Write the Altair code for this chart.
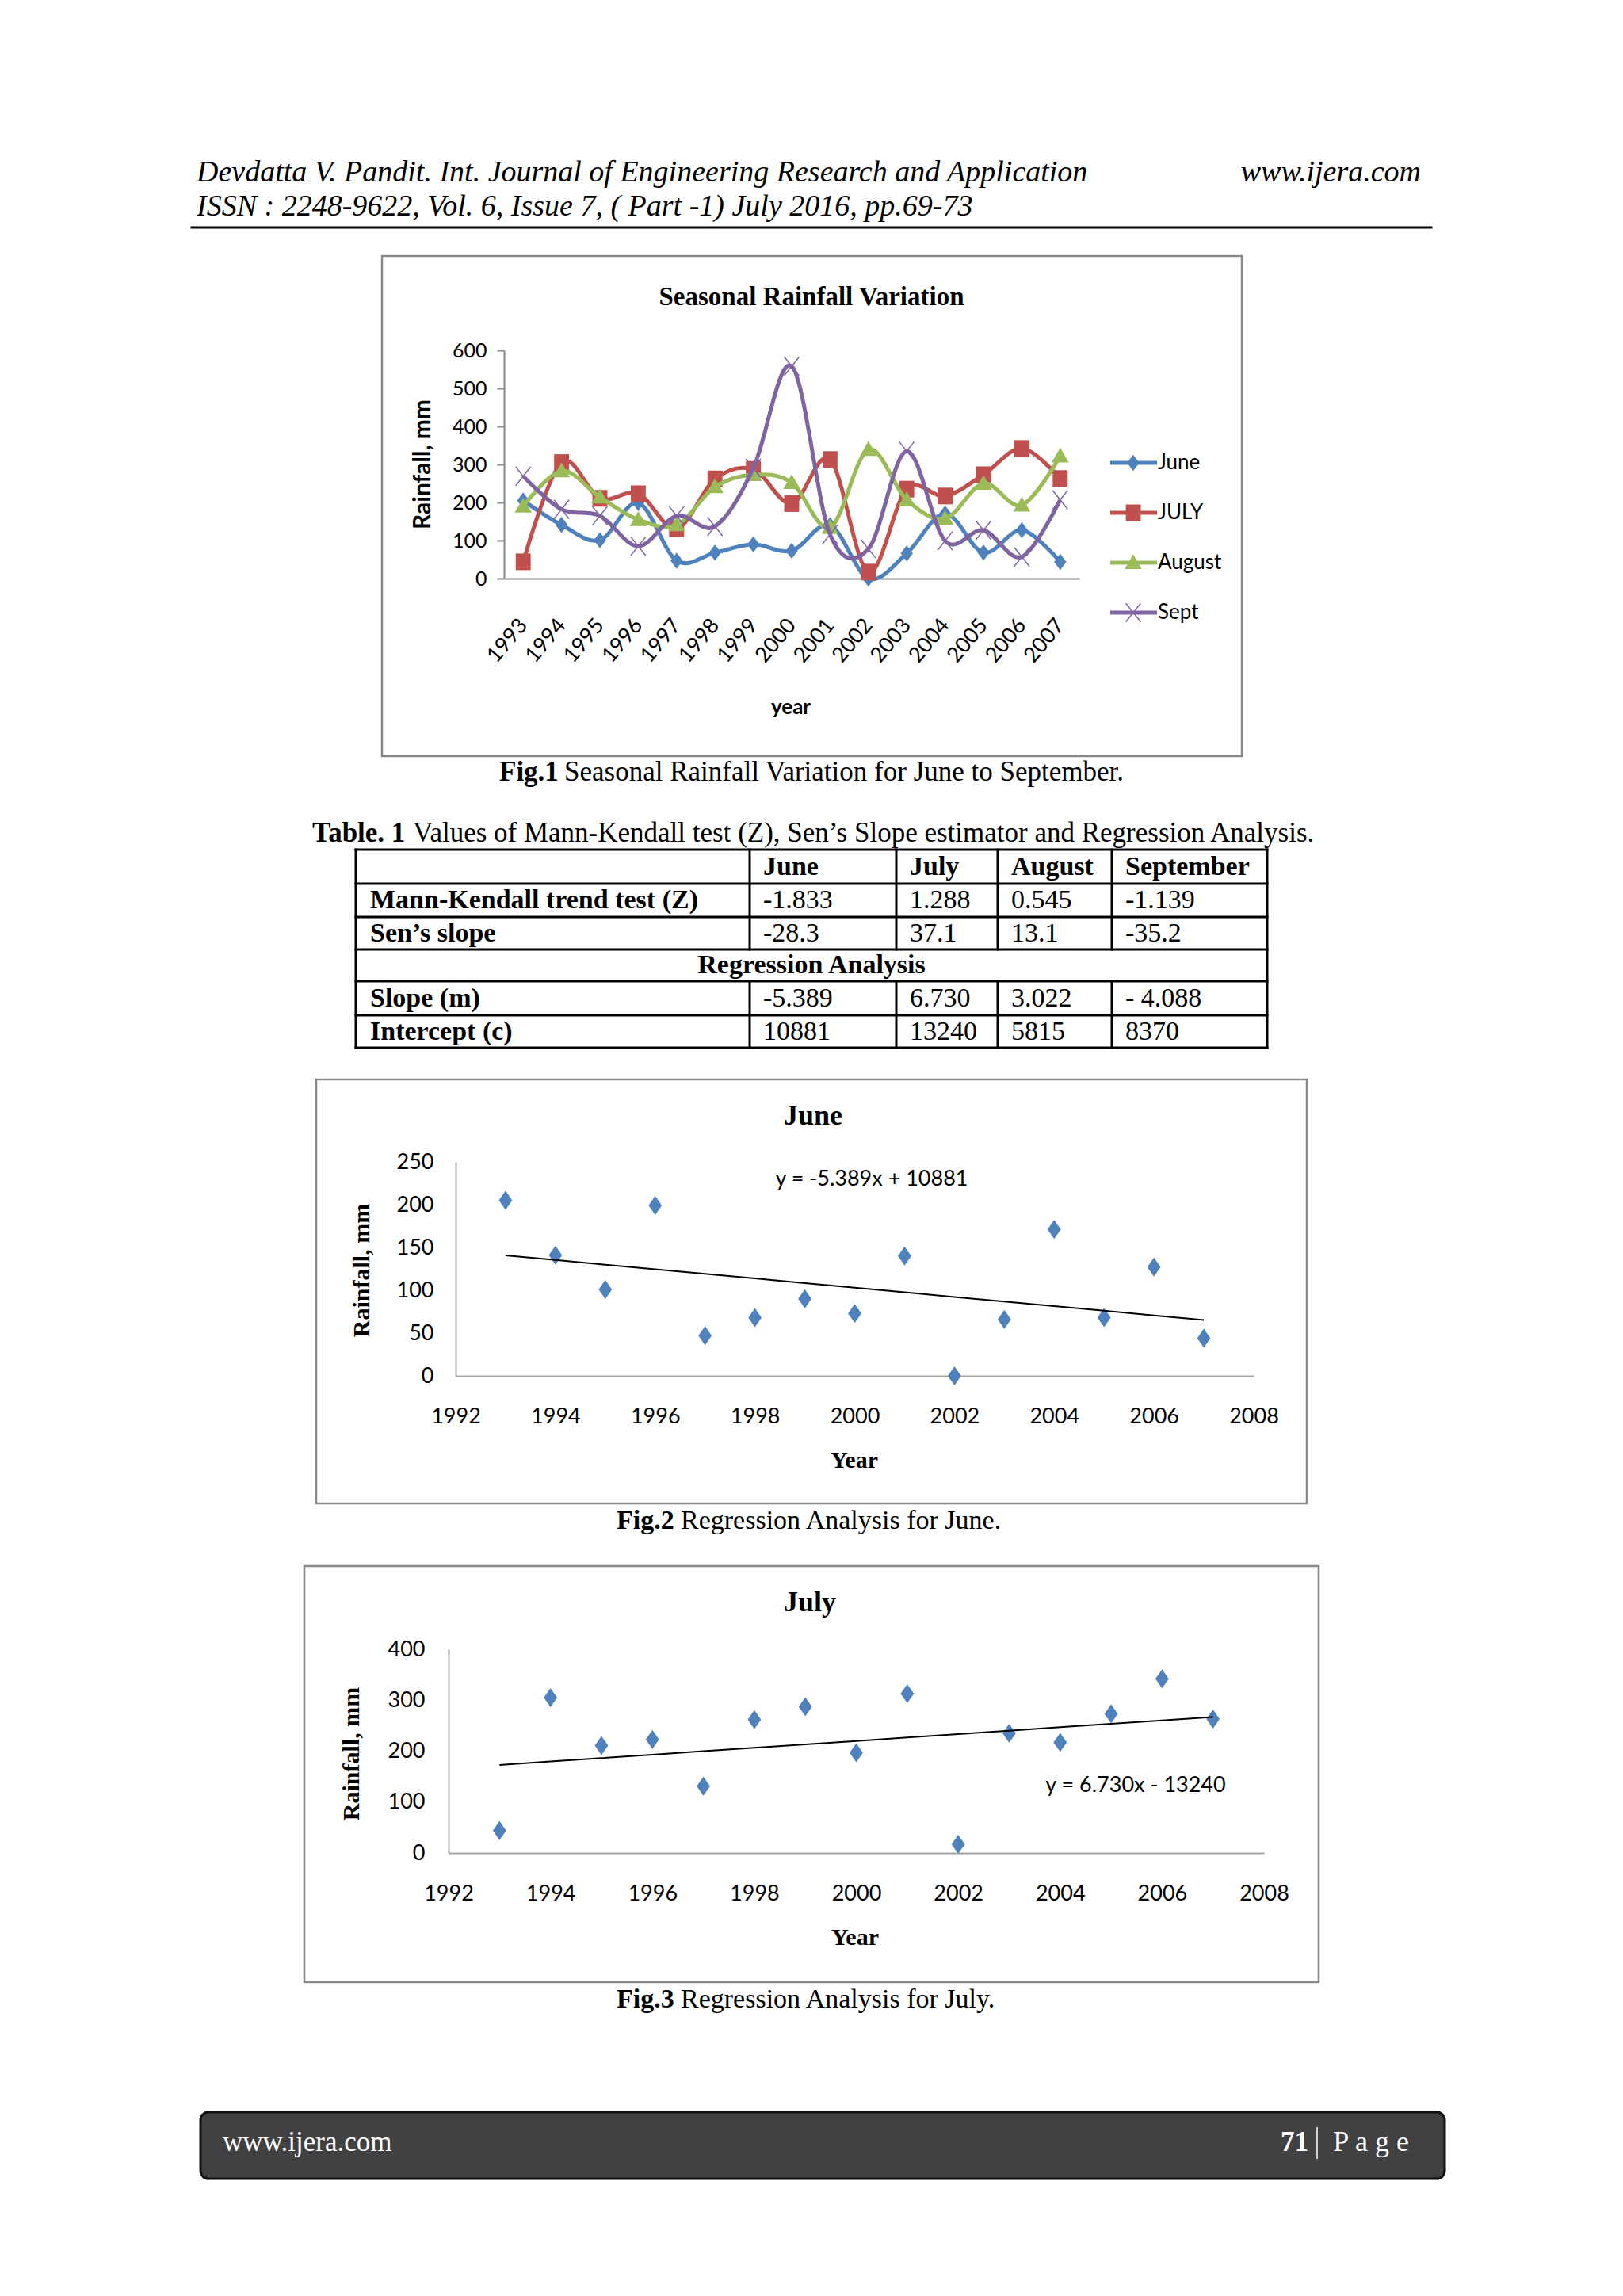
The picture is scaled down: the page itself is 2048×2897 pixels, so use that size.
import altair as alt
import pandas as pd

# ---------------- data ----------------
years = list(range(1993, 2008))
june = [205, 141, 101, 199, 47, 68, 90, 73, 140, 0, 66, 171, 68, 127, 44]
july = [44, 305, 211, 223, 131, 262, 287, 197, 313, 17, 235, 217, 273, 342, 263]
august = [190, 283, 214, 155, 141, 241, 273, 252, 134, 339, 207, 158, 250, 193, 322]
sept = [269, 182, 165, 85, 165, 137, 290, 558, 116, 78, 335, 99, 127, 57, 207]
series_names = ["June", "JULY", "August", "Sept"]
series_colors = ["#4F81BD", "#C0504D", "#9BBB59", "#8064A2"]
fig1_ticks = [0, 100, 200, 300, 400, 500, 600]

table_cols = ["June", "July", "August", "September"]
row_labels = ["Mann-Kendall trend test (Z)", "Sen\u2019s slope", "Slope (m)", "Intercept (c)"]
mk_z = ["-1.833", "1.288", "0.545", "-1.139"]
sens_slope = ["-28.3", "37.1", "13.1", "-35.2"]
reg_slope = ["-5.389", "6.730", "3.022", "- 4.088"]
reg_intercept = ["10881", "13240", "5815", "8370"]

june_eq = "y = -5.389x + 10881"
july_eq = "y = 6.730x - 13240"
june_m, june_c = -5.389, 10881
july_m, july_c = 6.730, -13240

header1 = "Devdatta V. Pandit. Int. Journal of Engineering Research and Application"
header2 = "ISSN : 2248-9622, Vol. 6, Issue 7, ( Part -1) July 2016, pp.69-73"
site = "www.ijera.com"

# ---------------- page helpers ----------------
W, H = 2032, 2870


def px(v):
    return v - 8


def py(v):
    return v - 8


one = pd.DataFrame({"k": [0]})
layers = []
SERIF = "Liberation Serif"


def add_text(s, x, y, size, font=SERIF, weight="normal", style="normal",
             align="left", baseline="middle", angle=0, color="black"):
    layers.append(
        alt.Chart(one).mark_text(text=s, font=font, fontSize=size, fontWeight=weight,
                                 fontStyle=style, align=align, baseline=baseline,
                                 angle=angle, color=color)
        .encode(x=alt.value(px(x)), y=alt.value(py(y)))
    )


def add_hline(x1, x2, y, color="black", w=3, cap="square"):
    layers.append(
        alt.Chart(one).mark_rule(color=color, strokeWidth=w, strokeCap=cap)
        .encode(x=alt.value(px(x1)), x2=alt.value(px(x2)), y=alt.value(py(y)))
    )


def add_vline(x, y1, y2, color="black", w=3, cap="square"):
    layers.append(
        alt.Chart(one).mark_rule(color=color, strokeWidth=w, strokeCap=cap)
        .encode(x=alt.value(px(x)), y=alt.value(py(y1)), y2=alt.value(py(y2)))
    )


def add_box(x1, y1, x2, y2, stroke="#888888", w=2.5, fill=None, radius=0):
    props = dict(stroke=stroke, strokeWidth=w)
    if fill is None:
        props.update(fill="white", fillOpacity=0)
    else:
        props.update(fill=fill, fillOpacity=1)
    if radius:
        props["cornerRadius"] = radius
    layers.append(
        alt.Chart(one).mark_rect(**props)
        .encode(x=alt.value(px(x1)), x2=alt.value(px(x2)),
                y=alt.value(py(y1)), y2=alt.value(py(y2)))
    )


# ---------------- header ----------------
add_text(header1, 248, 218, 38, style="italic")
add_text(site, 1793, 218, 38, style="italic", align="right")
add_text(header2, 248, 261, 38, style="italic")
add_hline(242, 1806, 287, w=3)

# ---------------- Fig. 1 ----------------
add_box(482, 323, 1567, 954)
add_text("Seasonal Rainfall Variation", 1024, 375, 33, weight="bold", align="center")
add_text("Rainfall, mm", 534, 586, 30, font="Lato", weight="bold", align="center", angle=270)
add_text("year", 998, 893, 26, font="Lato", weight="bold", align="center")

shapes = [
    ("M0,-1L0.75,0L0,1L-0.75,0Z", True, 420, 0),
    ("M-0.9,-1H0.9V1H-0.9Z", True, 440, 0),
    ("M0,-1L1,0.75L-1,0.75Z", True, 460, 0),
    ("M-0.8,-1L0.8,1M-0.8,1L0.8,-1", False, 560, 1.5),
]

long = pd.DataFrame({
    "year": [y for _ in series_names for y in years],
    "series": [n for n in series_names for _ in years],
    "rain": june + july + august + sept,
})

ax_gray = "#868686"
x1 = alt.X("year:O",
           scale=alt.Scale(type="point", padding=0.5, range=[px(636), px(1362)]),
           axis=alt.Axis(orient="bottom", offset=py(730) - H, labelAngle=-50,
                         ticks=False, grid=False, title=None, domainColor=ax_gray,
                         domainWidth=2, labelFont="Lato", labelFontSize=27,
                         labelColor="black", labelPadding=54))
y1 = alt.Y("rain:Q",
           scale=alt.Scale(domain=[0, 600], range=[py(730), py(442)], nice=False),
           axis=alt.Axis(orient="left", offset=-px(636), values=fig1_ticks,
                         tickSize=9, tickColor=ax_gray, tickWidth=2, grid=False,
                         title=None, domainColor=ax_gray, domainWidth=2,
                         labelFont="Lato", labelFontSize=25, labelColor="black",
                         labelPadding=13))

fig1_layers = []
for name, color, (shp, filled, sz, sw) in zip(series_names, series_colors, shapes):
    base = alt.Chart(long).transform_filter(alt.datum.series == name)
    fig1_layers.append(base.mark_line(interpolate="cardinal", color=color, strokeWidth=5)
                       .encode(x=x1, y=y1))
    pkw = dict(shape=shp, filled=filled, color=color, size=sz, opacity=1)
    if sw:
        pkw["strokeWidth"] = sw
    fig1_layers.append(base.mark_point(**pkw).encode(x=x1, y=y1))
fig1 = alt.layer(*fig1_layers)

# legend
for i, (name, color, (shp, filled, sz, sw)) in enumerate(zip(series_names, series_colors, shapes)):
    yy = 584 + i * 63
    add_hline(1401, 1460, yy, color=color, w=5, cap="butt")
    pkw = dict(shape=shp, filled=filled, color=color, size=sz, opacity=1)
    if sw:
        pkw["strokeWidth"] = sw
    layers.append(alt.Chart(one).mark_point(**pkw)
                  .encode(x=alt.value(px(1430)), y=alt.value(py(yy))))
    add_text(name, 1461, yy, 26, font="Lato")

# caption
add_text("Fig.1", 630, 974, 35, weight="bold")
add_text("Seasonal  Rainfall Variation for June to September.", 712, 974, 35)

# ---------------- Table 1 ----------------
add_text("Table. 1", 394, 1051, 35, weight="bold")
add_text("Values of  Mann-Kendall test (Z), Sen\u2019s Slope estimator and Regression Analysis.",
         521, 1051, 35)

row_y = [1072, 1115, 1157, 1198, 1238, 1281, 1322]
col_x = [449, 946, 1131, 1259, 1403, 1599]
for yy in row_y:
    add_hline(col_x[0], col_x[-1], yy, w=3)
add_vline(col_x[0], row_y[0], row_y[-1], w=3)
add_vline(col_x[-1], row_y[0], row_y[-1], w=3)
for xx in col_x[1:-1]:
    add_vline(xx, row_y[0], row_y[3], w=3)
    add_vline(xx, row_y[4], row_y[6], w=3)

centers = [(row_y[i] + row_y[i + 1]) / 2 for i in range(6)]
for j, h in enumerate(table_cols):
    add_text(h, col_x[j + 1] + 17, centers[0], 34, weight="bold")
body_rows = [(1, row_labels[0], mk_z), (2, row_labels[1], sens_slope),
             (4, row_labels[2], reg_slope), (5, row_labels[3], reg_intercept)]
for r, lab, vals in body_rows:
    add_text(lab, col_x[0] + 18, centers[r], 34, weight="bold")
    for j, v in enumerate(vals):
        add_text(v, col_x[j + 1] + 17, centers[r], 34)
add_text("Regression Analysis", (col_x[0] + col_x[-1]) / 2, centers[3], 34,
         weight="bold", align="center")

# ---------------- Fig. 2 and Fig. 3 ----------------
diamond = "M0,-1L0.7,0L0,1L-0.7,0Z"
light_gray = "#A6A6A6"


def scatter_fig(vals, m, c, x0, x1_, y_bot, y_top, ymax, ystep, lab_pad):
    d = pd.DataFrame({"year": years, "rain": vals})
    xs = alt.Scale(domain=[1992, 2008], range=[px(x0), px(x1_)], nice=False, zero=False)
    ys = alt.Scale(domain=[0, ymax], range=[py(y_bot), py(y_top)], nice=False)
    xa = alt.Axis(orient="bottom", offset=py(y_bot) - H, values=list(range(1992, 2009, 2)),
                  format="d", ticks=False, grid=False, title=None, domainColor=light_gray,
                  domainWidth=2, labelFont="Lato", labelFontSize=27, labelColor="black",
                  labelPadding=38, labelFlush=False, labelOverlap=False)
    ya = alt.Axis(orient="left", offset=-px(x0), values=list(range(0, ymax + 1, ystep)),
                  ticks=False, grid=False, title=None, domainColor=light_gray,
                  domainWidth=2, labelFont="Lato", labelFontSize=27, labelColor="black",
                  labelPadding=lab_pad)
    pts = alt.Chart(d).mark_point(shape=diamond, filled=True, color="#4F81BD",
                                  size=576, opacity=1).encode(
        x=alt.X("year:Q", scale=xs, axis=xa), y=alt.Y("rain:Q", scale=ys, axis=ya))
    fit = alt.Chart(d).transform_calculate(fit=f"{m} * datum.year + ({c})").mark_line(
        color="black", strokeWidth=2).encode(
        x=alt.X("year:Q", scale=xs, axis=xa), y=alt.Y("fit:Q", scale=ys, axis=ya))
    return alt.layer(pts, fit)


# Fig 2
add_box(399, 1362, 1649, 1897)
add_text("June", 1026, 1408, 36, weight="bold", align="center")
add_text("Rainfall, mm", 457, 1603, 30, weight="bold", align="center", angle=270)
add_text("Year", 1078, 1843, 30, weight="bold", align="center")
add_text(june_eq, 1100, 1488, 27, font="Lato", align="center")
fig2 = scatter_fig(june, june_m, june_c, 575, 1582, 1736, 1466, 250, 50, 28)
add_text("Fig.2", 778, 1919, 34, weight="bold")
add_text("Regression Analysis for June.", 859, 1919, 34)

# Fig 3
add_box(384, 1976, 1664, 2501)
add_text("July", 1022, 2022, 36, weight="bold", align="center")
add_text("Rainfall, mm", 444, 2213, 30, weight="bold", align="center", angle=270)
add_text("Year", 1079, 2445, 30, weight="bold", align="center")
add_text(july_eq, 1433, 2253, 27, font="Lato", align="center")
fig3 = scatter_fig(july, july_m, july_c, 566, 1595, 2338, 2081, 400, 100, 30)
add_text("Fig.3", 778, 2523, 34, weight="bold")
add_text("Regression  Analysis for July.", 859, 2523, 34)

# ---------------- footer ----------------
add_box(253, 2665, 1823, 2749, stroke="#111111", w=3, fill="#414042", radius=10)
add_text(site, 281, 2703, 35, color="white")
add_text("71", 1651, 2703, 35, weight="bold", align="right", color="white")
add_vline(1662, 2684, 2724, color="white", w=1.5, cap="butt")
add_text("P a g e", 1778, 2703, 36, align="right", color="white")

chart = (
    alt.layer(*layers, fig1, fig2, fig3)
    .resolve_scale(x="independent", y="independent")
    .properties(width=W, height=H, padding=0,
                autosize=alt.AutoSizeParams(type="none", contains="padding"))
    .configure_view(stroke=None)
)

chart.save("out.html", embed_options={"renderer": "svg", "actions": False})
